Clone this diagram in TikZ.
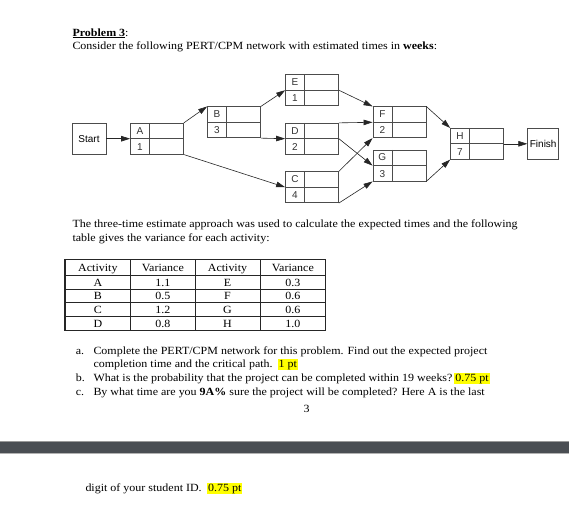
\documentclass[tikz,border=0pt]{standalone}
\usepackage{fontspec}
\setmainfont{Liberation Serif}[FakeStretch=1.09]
\newfontfamily\arialf{Liberation Sans}
\usetikzlibrary{arrows.meta,calc}
\definecolor{bandgray}{HTML}{4A4E53}
\definecolor{hlyellow}{HTML}{FFFF00}
\newcommand\actbox[5]{%
  \node[actbox] (#1) at (#2,#3) {};
  \draw[boxline, line width=1.1pt] (#1.west) -- (#1.east);
  \draw[boxline] ([xshift=19.5pt]#1.north west) -- ([xshift=19.5pt]#1.south west);
  \node[lbl] (#1-l) at ($(#1.north west)+(9.75,7.75)$) {#4};
  \node[lbl] (#1-n) at ($(#1.south west)+(9.75,-7.75)$) {#5};
}
\begin{document}
\begin{tikzpicture}[x=1pt,y=-1pt,
  boxline/.style={draw=black!70, line width=0.7pt},
  actbox/.style={boxline, minimum width=53pt, minimum height=31pt, inner sep=0pt},
  endbox/.style={boxline, minimum height=31pt, inner sep=0pt, font=\arialf\fontsize{10}{11}\selectfont},
  lbl/.style={font=\arialf\fontsize{10}{11}\selectfont, text=black!80, inner sep=0pt},
  conn/.style={draw=black!85, line width=0.6pt, -{Triangle[length=9pt,width=5.5pt]}},
  txt/.style={anchor=base west, inner sep=0pt, font=\fontsize{11}{13}\selectfont},
  tcell/.style={anchor=base, inner sep=0pt, font=\fontsize{11}{13}\selectfont},
  hl/.style={anchor=base west, fill=hlyellow, inner xsep=1pt, inner ysep=0pt, text height=8.5pt, text depth=2.5pt, font=\fontsize{11}{13}\selectfont}
]
\useasboundingbox (0,0) rectangle (569,506);
\fill[white] (0,0) rectangle (569,506);

% heading text
\node[txt] (prob) at (72.3,36) {\textbf{\underline{Problem 3}}:};
\node[txt] (cons) at (72.3,49.5) {Consider the following PERT/CPM network with estimated times in \textbf{weeks}:};

% network
\node[endbox, minimum width=34pt] (Start) at (89,138.7) {Start};
\actbox{A}{157}{138.7}{A}{1}
\actbox{B}{234}{122.3}{B}{3}
\actbox{E}{312}{90.2}{E}{1}
\actbox{D}{312}{138.7}{D}{2}
\actbox{C}{312}{187.2}{C}{4}
\actbox{F}{399.4}{122.3}{F}{2}
\actbox{G}{399.4}{165.6}{G}{3}
\actbox{H}{477}{143.8}{H}{7}
\node[endbox, minimum width=31pt] (Finish) at (543.2,143.8) {Finish};

\draw[conn] (Start.east) -- (A.west);
\draw[conn] (A.north east) -- (B.north west);
\draw[conn] (A.south east) -- (C.west);
\draw[conn] (B.north east) -- (E.west);
\draw[conn] (B.south east) -- (D.west);
\draw[conn] (E.east) -- (F.north west);
\draw[conn] (D.north east) -- (F.west);
\draw[conn] (D.east) -- (G.west);
\draw[conn] (C.north east) -- (F.south west);
\draw[conn] (C.south east) -- (G.south west);
\draw[conn] (F.north east) -- (H.north west);
\draw[conn] (G.south east) -- (H.south west);
\draw[conn] (H.east) -- (Finish.west);

% paragraph
\node[txt] (p1) at (72.3,227.3) {The three-time estimate approach was used to calculate the expected times and the following};
\node[txt] (p2) at (72.3,241.7) {table gives the variance for each activity:};

% table
\draw[black!85, line width=0.6pt]
  (65,275.3) -- (325.7,275.3)
  (65,289.3) -- (325.7,289.3)
  (65,302.7) -- (325.7,302.7)
  (65,316.3) -- (325.7,316.3)
  (130.7,259.3) -- (130.7,330.3)
  (195,259.3) -- (195,330.3)
  (260,259.3) -- (260,330.3);
\draw[black!85, line width=1.3pt] (65,259.3) rectangle (325.7,330.3);
\foreach \ya/\cA/\vA/\cB/\vB in {271.5/Activity/Variance/Activity/Variance,
    286.3/A/1.1/E/0.3, 299.7/B/0.5/F/0.6, 313.3/C/1.2/G/0.6, 327.3/D/0.8/H/1.0}{
  \node[tcell] at (97.85,\ya) {\cA};
  \node[tcell] at (162.85,\ya) {\vA};
  \node[tcell] at (227.5,\ya) {\cB};
  \node[tcell] at (292.85,\ya) {\vB};
}

% questions
\node[txt] (qa) at (75.7,354) {a.};
\node[txt] (qa1) at (93.3,354) {Complete the PERT/CPM network for this problem. Find out the expected project};
\node[txt] (qa2) at (93.3,367.7) {completion time and the critical path.};
\node[hl] (hla) at ([xshift=4.5pt]qa2.base east) {1 pt};
\node[txt] (qb) at (75.7,381.7) {b.};
\node[txt] (qb1) at (93.3,381.7) {What is the probability that the project can be completed within 19 weeks?};
\node[hl] (hlb) at ([xshift=1.5pt]qb1.base east) {0.75 pt};
\node[txt] (qc) at (75.7,395) {c.};
\node[txt] (qc1) at (93.3,395) {By what time are you \textbf{9A\%} sure the project will be completed? Here A is the last};
\node[tcell] (pg) at (306.7,412.3) {3};

% page break band
\fill[bandgray] (0,441) rectangle (569,453.3);
\draw[black!40, line width=0.8pt] (0,441.3) -- (569,441.3);
\draw[black!30, line width=0.8pt] (0,453) -- (569,453);

\node[txt] (qc2) at (85.3,491.7) {digit of your student ID.};
\node[hl] (hlc) at ([xshift=5pt]qc2.base east) {0.75 pt};
\end{tikzpicture}
\end{document}
